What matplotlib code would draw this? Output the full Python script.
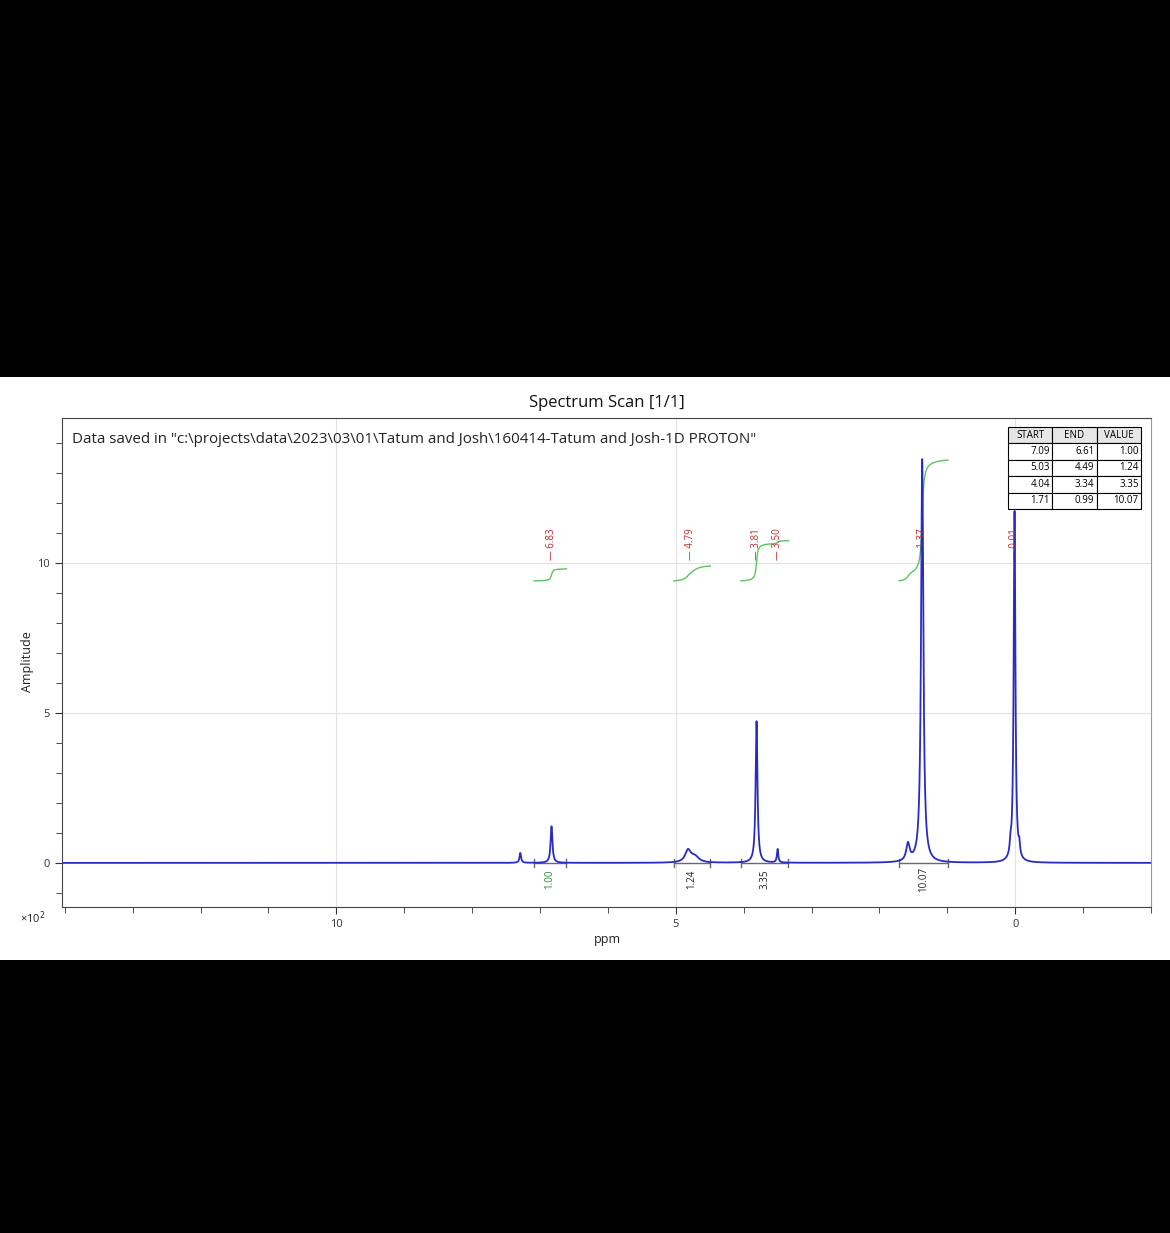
import numpy as np
import matplotlib
matplotlib.use("Agg")
import matplotlib.pyplot as plt
from matplotlib.patches import Rectangle

plt.rcParams['font.family'] = ['Open Sans', 'DejaVu Sans']

# peak list (ppm, height in x10^2, half width)
peak_ppm = [7.29, 6.83, 4.82, 4.72, 3.81, 3.50, 1.58, 1.37, 0.07, 0.01, -0.06]
peak_height = [0.33, 1.22, 0.40, 0.20, 4.72, 0.45, 0.58, 13.45, 0.35, 11.7, 0.35]
peak_width = [0.014, 0.016, 0.05, 0.07, 0.016, 0.012, 0.03, 0.02, 0.012, 0.015, 0.012]

# picked peak labels
label_ppm = [6.83, 4.79, 3.81, 3.50, 1.37, 0.01]

# integration table
int_start = [7.09, 5.03, 4.04, 1.71]
int_end = [6.61, 4.49, 3.34, 0.99]
int_value = [1.00, 1.24, 3.35, 10.07]

x = np.linspace(14.2, -2.2, 16000)
y = np.zeros_like(x)
for p, h, w in zip(peak_ppm, peak_height, peak_width):
    y += h * w**2 / ((x - p)**2 + w**2)

fig = plt.figure(figsize=(11.7, 12.33), dpi=100, facecolor='black')
fig.patches.append(Rectangle((0, (1233 - 960) / 1233), 1, 583 / 1233,
                             transform=fig.transFigure, facecolor='white',
                             edgecolor='none', zorder=-10))

ax = fig.add_axes([62 / 1170, (1233 - 907) / 1233, 1089 / 1170, 489 / 1233])
ax.set_zorder(5)
ax.set_xlim(14.04, -2.0)
ax.set_ylim(-1.47, 14.83)

ax.plot(x, y, color='#2a2ac4', lw=1.3, zorder=3)

# grid
for g in [10, 5, 0]:
    ax.axvline(g, color='#e2e2e2', lw=0.8, zorder=1)
for g in [5, 10]:
    ax.axhline(g, color='#e2e2e2', lw=0.8, zorder=1)

# integrals
for i, (s, e, v) in enumerate(zip(int_start, int_end, int_value)):
    m = (x <= s) & (x >= e)
    xs = x[m]
    cum = np.cumsum(y[m])
    cum = (cum - cum[0]) / (cum[-1] - cum[0]) * v * 0.4 + 9.4
    ax.plot(xs, cum, color='#5cc45c', lw=1.0, zorder=2)
    ax.plot([s, e], [0, 0], color='#6a6a6a', lw=1.0, zorder=2)
    ax.plot([s, s], [-0.12, 0.12], color='#6a6a6a', lw=1.0, zorder=2)
    ax.plot([e, e], [-0.12, 0.12], color='#6a6a6a', lw=1.0, zorder=2)
    col = '#2e8b2e' if i == 0 else '#222222'
    ax.text((s + e) / 2, -0.55, f"{v:.2f}", rotation=90, ha='center',
            va='center', fontsize=7, color=col)

# peak labels
for p in label_ppm:
    ax.text(p, 10.1, f"\u2014 {p:.2f}", rotation=90, ha='center',
            va='bottom', fontsize=7, color='#c0282d', zorder=4)

ax.text(0.009, 0.971, 'Data saved in "c:\\projects\\data\\2023\\03\\01\\Tatum and Josh\\160414-Tatum and Josh-1D PROTON"',
        transform=ax.transAxes, ha='left', va='top', fontsize=10.9, color='#222222')

# table
cells = [[f"{s:.2f}", f"{e:.2f}", f"{v:.2f}"] for s, e, v in zip(int_start, int_end, int_value)]
tb = ax.table(cellText=cells, colLabels=['START', 'END', 'VALUE'],
              cellLoc='right', bbox=[0.8687, 0.814, 0.1221, 0.1677], zorder=5)
tb.auto_set_font_size(False)
tb.set_fontsize(7)
for (r, c), cell in tb.get_celld().items():
    cell.set_linewidth(0.8)
    cell.PAD = 0.05
    if r == 0:
        cell.set_facecolor('#e6e6e6')
        cell.get_text().set_ha('center')
        cell._loc = 'center'

ax.set_xticks([10, 5, 0])
ax.set_xticks(np.arange(-2, 15, 1), minor=True)
ax.set_yticks([0, 5, 10])
ax.set_yticks(np.arange(-1, 15, 1), minor=True)
ax.tick_params(axis='both', which='major', labelsize=8, length=5, colors='#333333')
ax.tick_params(axis='both', which='minor', length=4, colors='#333333')
for sp in ['left', 'bottom', 'top']:
    ax.spines[sp].set_color('#444444')
ax.spines['right'].set_color('#999999')

fig.text(607 / 1170, (1233 - 403) / 1233, 'Spectrum Scan [1/1]', ha='center',
         va='center', fontsize=12, color='#111111')
fig.text(607 / 1170, (1233 - 940) / 1233, 'ppm', ha='center', va='center',
         fontsize=9, color='#222222')
fig.text(27 / 1170, (1233 - 662) / 1233, 'Amplitude', rotation=90, ha='center',
         va='center', fontsize=9, color='#222222')
fig.text(20 / 1170, (1233 - 918) / 1233, '\u00d710$^2$', ha='left', va='center',
         fontsize=8, color='#222222')

fig.savefig('out.png', dpi=100, facecolor='black')
